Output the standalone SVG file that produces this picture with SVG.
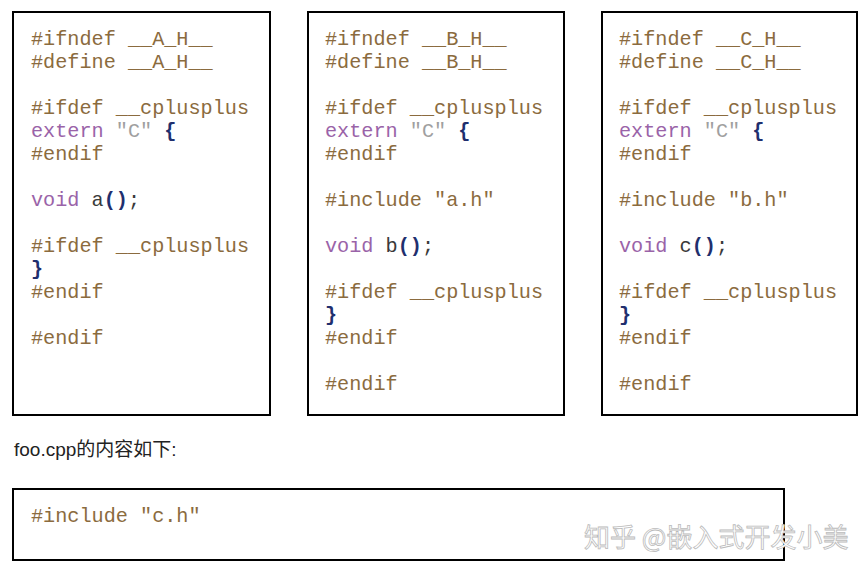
<svg xmlns="http://www.w3.org/2000/svg" width="867" height="571" viewBox="0 0 867 571">
<style>
.box{fill:#fff;stroke:#000;stroke-width:2}
.c{font-family:"Liberation Mono",monospace;font-size:20.2px;fill:#8b6b3e}
.k{fill:#9a63a8}
.s{fill:#a0a0a0}
.b{fill:#1f2f6e;font-weight:bold}
.t{fill:#3a3a3a}
</style>
<rect width="867" height="571" fill="#fff"/>
<g id="a_h">
<rect class="box" x="13" y="12" width="257" height="403"/>
<text class="c" xml:space="preserve"><tspan x="31" y="45">#ifndef __A_H__</tspan><tspan x="31" y="68">#define __A_H__</tspan><tspan x="31" y="114">#ifdef __cplusplus</tspan><tspan x="31" y="137" class="k">extern <tspan class="s">"C"</tspan> <tspan class="b">{</tspan></tspan><tspan x="31" y="160">#endif</tspan><tspan x="31" y="206" class="k">void <tspan class="t">a</tspan><tspan class="b">()</tspan><tspan class="t">;</tspan></tspan><tspan x="31" y="252">#ifdef __cplusplus</tspan><tspan x="31" y="275" class="b">}</tspan><tspan x="31" y="298">#endif</tspan><tspan x="31" y="344">#endif</tspan></text>
</g>
<g id="b_h">
<rect class="box" x="308" y="12" width="256" height="403"/>
<text class="c" xml:space="preserve"><tspan x="325" y="45">#ifndef __B_H__</tspan><tspan x="325" y="68">#define __B_H__</tspan><tspan x="325" y="114">#ifdef __cplusplus</tspan><tspan x="325" y="137" class="k">extern <tspan class="s">"C"</tspan> <tspan class="b">{</tspan></tspan><tspan x="325" y="160">#endif</tspan><tspan x="325" y="206">#include "a.h"</tspan><tspan x="325" y="252" class="k">void <tspan class="t">b</tspan><tspan class="b">()</tspan><tspan class="t">;</tspan></tspan><tspan x="325" y="298">#ifdef __cplusplus</tspan><tspan x="325" y="321" class="b">}</tspan><tspan x="325" y="344">#endif</tspan><tspan x="325" y="390">#endif</tspan></text>
</g>
<g id="c_h">
<rect class="box" x="602" y="12" width="255" height="403"/>
<text class="c" xml:space="preserve"><tspan x="619" y="45">#ifndef __C_H__</tspan><tspan x="619" y="68">#define __C_H__</tspan><tspan x="619" y="114">#ifdef __cplusplus</tspan><tspan x="619" y="137" class="k">extern <tspan class="s">"C"</tspan> <tspan class="b">{</tspan></tspan><tspan x="619" y="160">#endif</tspan><tspan x="619" y="206">#include "b.h"</tspan><tspan x="619" y="252" class="k">void <tspan class="t">c</tspan><tspan class="b">()</tspan><tspan class="t">;</tspan></tspan><tspan x="619" y="298">#ifdef __cplusplus</tspan><tspan x="619" y="321" class="b">}</tspan><tspan x="619" y="344">#endif</tspan><tspan x="619" y="390">#endif</tspan></text>
</g>
<text x="14" y="456" font-family="'Liberation Sans','Noto Sans CJK SC',sans-serif" font-size="19" fill="#222">foo.cpp的内容如下:</text>
<g id="foo_cpp">
<rect class="box" x="13" y="489" width="771" height="71"/>
<text class="c" x="31" y="522">#include "c.h"</text>
</g>
<text x="584" y="547" font-family="'Noto Sans CJK SC',sans-serif" font-size="26" fill="#fff" stroke="#bbb" stroke-width="0.8">知乎 @嵌入式开发小美</text>
</svg>
